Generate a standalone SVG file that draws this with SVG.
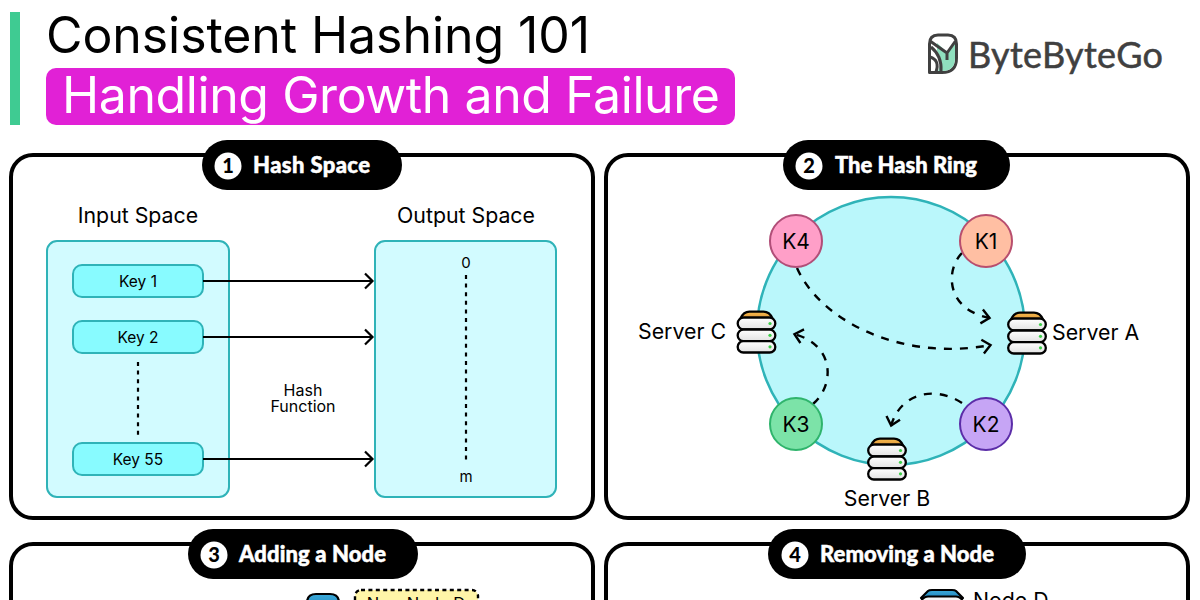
<svg xmlns="http://www.w3.org/2000/svg" width="1200" height="600" viewBox="0 0 1200 600">
<style>
text{font-family:Inter,"Liberation Sans",sans-serif;fill:#000}
.panel{fill:#fff;stroke:#000;stroke-width:4}
.pill{fill:#000}
.num{fill:#fff}
.numt{font-family:Lato,"Liberation Sans",sans-serif;font-weight:900;font-size:20px;fill:#000;text-anchor:middle}
.pt{font-family:Lato,"Liberation Sans",sans-serif;font-weight:900;font-size:22px;fill:#fff;stroke:#fff;stroke-width:.5}
.box{fill:#d2fbff;stroke:#2fb3b8;stroke-width:2}
.key{fill:#88fbff;stroke:#2fb3b8;stroke-width:2}
.kt{font-size:15.5px;text-anchor:middle}
.lbl{font-size:21.3px}
.arrow{fill:none;stroke:#000;stroke-width:2.200;marker-end:url(#chev)}
.dash{fill:none;stroke:#000;stroke-width:2.400;stroke-dasharray:8 8;marker-end:url(#chevd)}
.dot{fill:none;stroke:#000;stroke-width:2.200;stroke-dasharray:4 4.600}
.kc{font-size:21px;text-anchor:middle}
</style>
<defs>
<marker id="chev" markerUnits="userSpaceOnUse" markerWidth="14" markerHeight="20" refX="12" refY="10" orient="auto">
<path d="M4 2.500 L11.500 10 L4 17.500" fill="none" stroke="#000" stroke-width="2.200"/>
</marker>
<marker id="chevd" markerUnits="userSpaceOnUse" markerWidth="14" markerHeight="20" refX="12" refY="10" orient="auto">
<path d="M3.500 3 L11.500 10 L3.500 17" fill="none" stroke="#000" stroke-width="2.400"/>
</marker>
<linearGradient id="layer" x1="0" y1="0" x2="0" y2="1"><stop offset="0" stop-color="#fff"/><stop offset="1" stop-color="#e2e2e2"/></linearGradient>
<linearGradient id="cap" x1="0" y1="0" x2="0" y2="1"><stop offset="0" stop-color="#f6bb4e"/><stop offset="1" stop-color="#e0973a"/></linearGradient>
<linearGradient id="blue" x1="0" y1="0" x2="0" y2="1"><stop offset="0" stop-color="#3ba9d8"/><stop offset="1" stop-color="#1f86c0"/></linearGradient>
<g id="server">
<path d="M4 8 Q7 1.200 13 1.200 H27 Q33 1.200 36 8 Z" fill="url(#cap)" stroke="#000" stroke-width="2.300" stroke-linejoin="round"/>
<rect x="1.200" y="7" width="37.600" height="12" rx="6" fill="url(#layer)" stroke="#000" stroke-width="2.300"/>
<rect x="1.200" y="19" width="37.600" height="11.700" rx="5.800" fill="url(#layer)" stroke="#000" stroke-width="2.300"/>
<rect x="1.200" y="30.700" width="37.600" height="11.300" rx="5.600" fill="url(#layer)" stroke="#000" stroke-width="2.300"/>
<circle cx="33.500" cy="13" r="1.600" fill="#3ecf4a"/><circle cx="33.500" cy="24.800" r="1.600" fill="#3ecf4a"/><circle cx="33.500" cy="36.300" r="1.600" fill="#3ecf4a"/>
</g>
</defs>

<g id="header">
<rect x="10" y="12" width="10" height="113" fill="#3fcb92"/>
<text x="46" y="53" font-size="50" textLength="544">Consistent Hashing 101</text>
<rect x="46" y="68" width="689" height="57" rx="10" fill="#e121d6"/>
<text x="62" y="113" font-size="50" style="fill:#fff" textLength="658">Handling Growth and Failure</text>
</g>

<g id="logo">
<path d="M929.500 72.500 V44 Q929.500 35 938 35 H948 Q956.500 35 956.500 44 V58 Q956.500 72.500 942 72.500 Z" fill="#fff" stroke="#404040" stroke-width="3" stroke-linejoin="round"/>
<path d="M937 43 L947 52 L955 43 V58 Q955 71 942 71 H938 Q944 60 937 51 Z" fill="#8fe0be"/>
<path d="M930 41 L947 53 L955.500 41 M947 53 V60 M930 57 Q940 60 936 72 M931 47 Q942 56 941 71" fill="none" stroke="#404040" stroke-width="3" stroke-linejoin="round"/>
<text x="968" y="68" font-size="36" style="font-family:Lato,'Liberation Sans',sans-serif;fill:#404040;stroke:#404040;stroke-width:.5" textLength="195">ByteByteGo</text>
</g>

<g id="panel-1">
<rect class="panel" x="11" y="155" width="582" height="363" rx="22"/>
<rect class="pill" x="202" y="140" width="200" height="50" rx="25"/>
<circle class="num" cx="228" cy="166" r="13.500"/><text class="numt" x="228" y="173">1</text>
<text class="pt" x="253" y="173" textLength="117">Hash Space</text>
</g>
<g id="panel-2">
<rect class="panel" x="606" y="155" width="582" height="363" rx="22"/>
<rect class="pill" x="783" y="140" width="227" height="50" rx="25"/>
<circle class="num" cx="809" cy="166" r="13.500"/><text class="numt" x="809" y="173">2</text>
<text class="pt" x="835" y="173" textLength="142">The Hash Ring</text>
</g>
<g id="panel-3">
<rect class="panel" x="11" y="544" width="582" height="100" rx="22"/>
<rect class="pill" x="188" y="529" width="230" height="50" rx="25"/>
<circle class="num" cx="214" cy="555" r="13.500"/><text class="numt" x="214" y="562">3</text>
<text class="pt" x="239" y="562" textLength="147">Adding a Node</text>
</g>
<g id="panel-4">
<rect class="panel" x="606" y="544" width="582" height="100" rx="22"/>
<rect class="pill" x="768" y="529" width="258" height="50" rx="25"/>
<circle class="num" cx="795" cy="555" r="13.500"/><text class="numt" x="795" y="562">4</text>
<text class="pt" x="820" y="562" textLength="174">Removing a Node</text>
</g>

<g id="input-space">
<text class="lbl" x="138" y="223" text-anchor="middle">Input Space</text>
<rect class="box" x="47" y="241" width="182" height="256" rx="10"/>
</g>
<g id="output-space">
<text class="lbl" x="466" y="223" text-anchor="middle">Output Space</text>
<rect class="box" x="375" y="241" width="181" height="256" rx="10"/>
<text x="466" y="268" font-size="15" text-anchor="middle">0</text>
<text x="466" y="482" font-size="15" text-anchor="middle">m</text>
</g>
<g id="key-1"><rect class="key" x="73" y="265" width="130" height="32" rx="9"/><text class="kt" x="138" y="287">Key 1</text></g>
<g id="key-2"><rect class="key" x="73" y="321" width="130" height="32" rx="9"/><text class="kt" x="138" y="343">Key 2</text></g>
<g id="key-55"><rect class="key" x="73" y="443" width="130" height="32" rx="9"/><text class="kt" x="138" y="465">Key 55</text></g>
<g id="hash-function">
<text x="303" font-size="16" text-anchor="middle"><tspan x="303" y="396">Hash</tspan><tspan x="303" y="412">Function</tspan></text>
</g>

<g id="ring"><circle cx="891" cy="331" r="134" fill="#baf7fb" stroke="#2fb3b8" stroke-width="2.500"/></g>

<g id="server-a"><use href="#server" x="1007" y="311.500"/><text class="lbl" x="1052" y="340">Server A</text></g>
<g id="server-b"><use href="#server" x="867" y="437.500"/><text class="lbl" x="887" y="506" text-anchor="middle">Server B</text></g>
<g id="server-c"><use href="#server" x="736.500" y="310.500"/><text class="lbl" x="638" y="339">Server C</text></g>

<g id="connectors">
<path class="arrow" d="M203 281 H373"/>
<path class="arrow" d="M203 337 H373"/>
<path class="arrow" d="M203 459 H373"/>
<path class="dot" d="M138 362 V437"/>
<path class="dot" d="M466 275 V462"/>
<path class="dash" d="M797 268 C820 320 900 362 991 345"/>
<path class="dash" d="M962 253 C945 270 946 310 990 318"/>
<path class="dash" d="M813 404 C835 385 835 345 794 334"/>
<path class="dash" d="M962 403 C935 385 900 393 891 426"/>
</g>

<g id="k4"><circle cx="796" cy="241" r="26" fill="#ff9fc8" stroke="#b14e78" stroke-width="2"/><text class="kc" x="796" y="248.500">K4</text></g>
<g id="k1"><circle cx="986" cy="241" r="26" fill="#ffbfa3" stroke="#b84e6e" stroke-width="2"/><text class="kc" x="986" y="248.500">K1</text></g>
<g id="k3"><circle cx="796" cy="424" r="26" fill="#7ce3a8" stroke="#2fb46c" stroke-width="2"/><text class="kc" x="796" y="431.500">K3</text></g>
<g id="k2"><circle cx="986" cy="424" r="26" fill="#c6a5f5" stroke="#5b2da8" stroke-width="2"/><text class="kc" x="986" y="431.500">K2</text></g>

<g id="new-node-d">
<path d="M307 612 V603 Q307 594 316 594 H330 Q339 594 339 603 V612 Z" fill="url(#blue)" stroke="#000" stroke-width="2.200"/>
<rect x="355" y="590" width="123" height="30" rx="6" fill="#fff5a8" stroke="#000" stroke-width="2.400" stroke-dasharray="4 3.400"/>
<text x="416" y="609" font-size="16.500" text-anchor="middle">New Node D</text>
</g>
<g id="node-d">
<path d="M921 598 L928 591 Q929 590 932 590 H952 Q955 590 956 591 L963 598 Z" fill="url(#blue)" stroke="#000" stroke-width="2.200" stroke-linejoin="round"/>
<rect x="921" y="596.500" width="42" height="14" rx="7" fill="#f5f5f5" stroke="#000" stroke-width="2.200"/>
<text class="lbl" x="973" y="608">Node D</text>
</g>
</svg>
